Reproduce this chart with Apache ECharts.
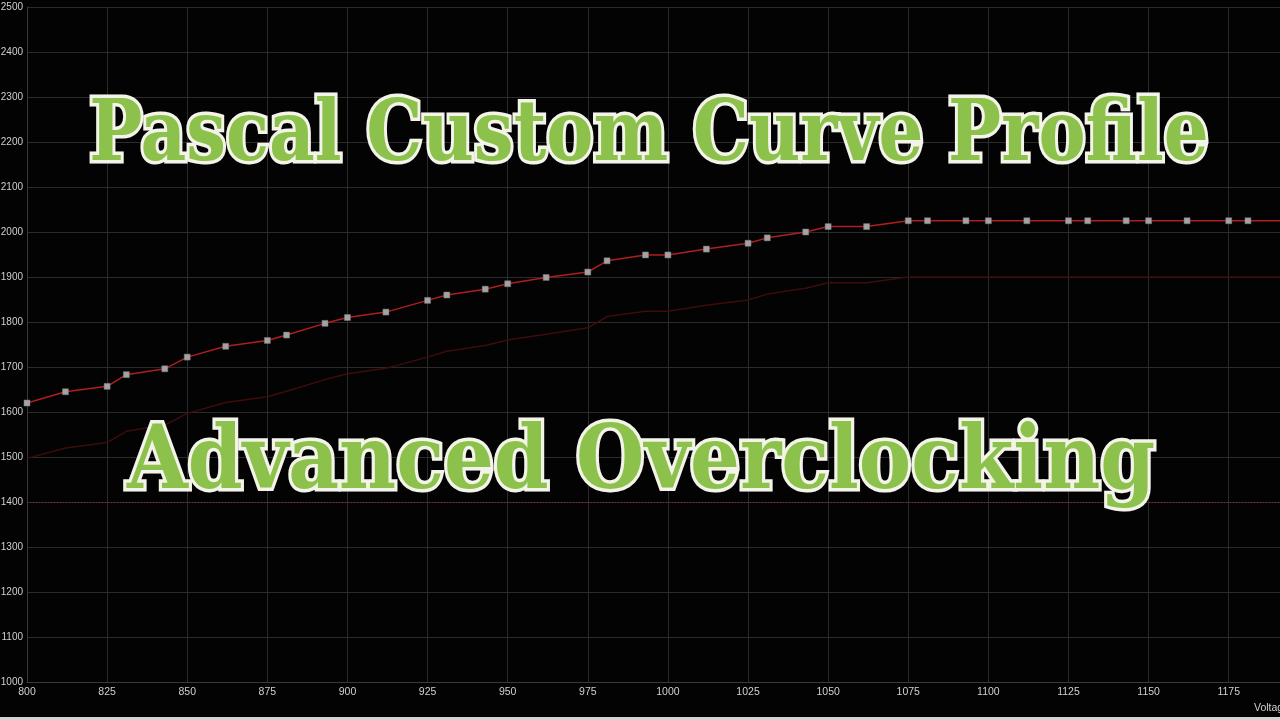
<!DOCTYPE html>
<html>
<head>
<meta charset="utf-8">
<script src="https://cdn.jsdelivr.net/npm/echarts@6/dist/echarts.min.js"></script>
<style>
  html, body { margin: 0; padding: 0; background: #d2d2d2; }
  #chart { width: 1280px; height: 717px; }
</style>
</head>
<body>
<div id="chart"></div>
<script>
// Voltage points (mV)
const voltages = [800, 812, 825, 831, 843, 850, 862, 875, 881, 893, 900, 912, 925, 931, 943, 950, 962, 975, 981, 993,
  1000, 1012, 1025, 1031, 1043, 1050, 1062, 1075, 1081, 1093, 1100, 1112, 1125, 1131, 1143, 1150, 1162, 1175, 1181, 1193];
// Custom (overclocked) curve frequencies (MHz)
const customFreq = [1620, 1645, 1657, 1683, 1696, 1722, 1746, 1759, 1771, 1797, 1810, 1822, 1848, 1860, 1873, 1885, 1899, 1911, 1936, 1949,
  1949, 1962, 1975, 1987, 2000, 2012, 2012, 2025, 2025, 2025, 2025, 2025, 2025, 2025, 2025, 2025, 2025, 2025, 2025, 2025];
// Default curve frequencies (MHz)
const defaultFreq = [1497, 1520, 1532, 1557, 1571, 1597, 1621, 1634, 1646, 1672, 1685, 1697, 1722, 1735, 1748, 1760, 1773, 1787, 1812, 1824,
  1824, 1837, 1849, 1862, 1875, 1887, 1887, 1900, 1900, 1900, 1900, 1900, 1900, 1900, 1900, 1900, 1900, 1900, 1900, 1900];
// Dotted limit line
const limitFreq = 1400;
// Axis ranges
const xMin = 800, xMax = 1191, xStep = 25;
const yMin = 1000, yMax = 2500, yStep = 100;
const titleLine1 = 'Pascal Custom Curve Profile';
const titleLine2 = 'Advanced Overclocking';
const xAxisName = 'Voltage, mV';

const pairs = (xs, ys) => xs.map((x, i) => [x, ys[i]]);

const chart = echarts.init(document.getElementById('chart'));

function titleText(text, x, y, size, scaleX) {
  const font = 'bold ' + size + 'px "DejaVu Serif"';
  const base = { text: text, font: font, textAlign: 'center', textVerticalAlign: 'middle', align: 'center', verticalAlign: 'middle' };
  return [
    { type: 'text', x: x, y: y, scaleX: scaleX, z: 100, silent: true,
      style: Object.assign({}, base, { fill: '#f3f3ea', stroke: '#f3f3ea', lineWidth: 7, shadowColor: 'rgba(70,70,70,0.9)', shadowBlur: 2 }) },
    { type: 'text', x: x, y: y, scaleX: scaleX, z: 101, silent: true,
      style: Object.assign({}, base, { fill: '#8cc24b' }) }
  ];
}

chart.setOption({
  backgroundColor: '#030303',
  animation: false,
  grid: { left: 27, right: 0, top: 7, bottom: 35, containLabel: false, outerBoundsMode: 'none' },
  xAxis: {
    type: 'value', min: xMin, max: xMax, interval: xStep,
    name: xAxisName, nameLocation: 'end', nameGap: -26,
    nameTextStyle: { color: '#d0d0d0', fontSize: 10.5, fontFamily: 'Liberation Sans', align: 'left', verticalAlign: 'top', padding: [21, 0, 0, 0] },
    axisLine: { show: true, lineStyle: { color: '#3a3a3a', width: 1 } },
    axisTick: { show: false },
    axisLabel: { color: '#d0d0d0', fontSize: 10.5, fontFamily: 'Liberation Sans', margin: 5, showMaxLabel: false,
      formatter: v => (v % 25 === 0 ? String(v) : '') },
    splitLine: { show: true, lineStyle: { color: '#2b2b2b', width: 1 } }
  },
  yAxis: {
    type: 'value', min: yMin, max: yMax, interval: yStep,
    axisLine: { show: true, lineStyle: { color: '#3a3a3a', width: 1 } },
    axisTick: { show: false },
    axisLabel: { color: '#d0d0d0', fontSize: 10, fontFamily: 'Liberation Sans', margin: 4, formatter: v => String(v) },
    splitLine: { show: true, lineStyle: { color: '#2b2b2b', width: 1 } }
  },
  series: [
    {
      type: 'line', data: pairs(voltages, defaultFreq), showSymbol: false, symbol: 'none',
      lineStyle: { color: '#3e0c0c', width: 1.5 }, z: 2,
      markLine: {
        silent: true, symbol: 'none', label: { show: false },
        lineStyle: { color: '#a02222', type: [1, 2], width: 1 },
        data: [{ yAxis: limitFreq }]
      }
    },
    {
      type: 'line', data: pairs(voltages, customFreq), symbol: 'rect', symbolSize: 6,
      itemStyle: { color: '#a3a3a3', borderColor: '#7a7a7a', borderWidth: 0.5 },
      lineStyle: { color: '#b01e1e', width: 1.5 }, z: 3
    }
  ],
  graphic: [].concat(
    titleText(titleLine1, 649, 138, 84, 0.841),
    titleText(titleLine2, 641, 465, 87, 0.902)
  )
});
</script>
</body>
</html>
